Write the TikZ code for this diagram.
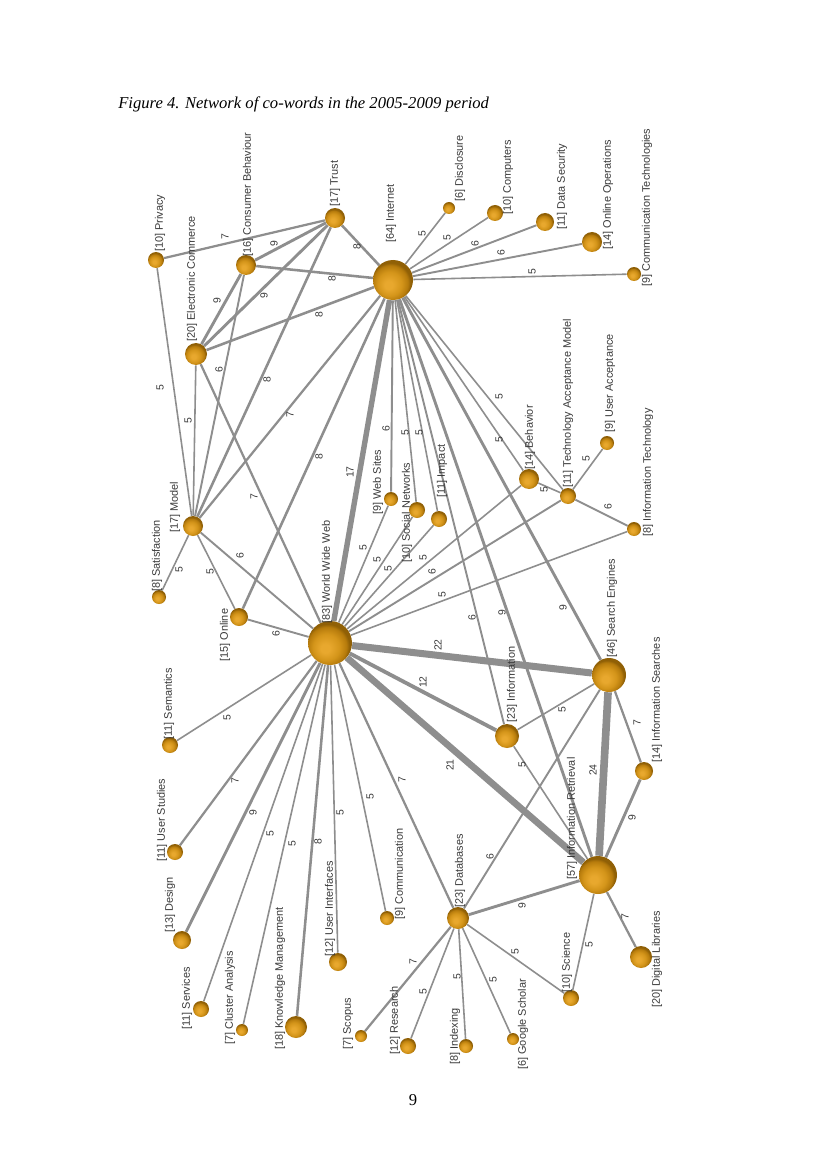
\documentclass[tikz,border=0pt]{standalone}
\usepackage{fontspec}
\setmainfont{Liberation Serif}
\setsansfont{Liberation Sans}
\definecolor{edgegray}{HTML}{8E8E8E}
\definecolor{lblgray}{HTML}{3A3A3A}
\definecolor{gA}{HTML}{E8A82E}
\definecolor{gB}{HTML}{D4951A}
\definecolor{gC}{HTML}{B67B0C}
\definecolor{gD}{HTML}{906006}
\pgfdeclareradialshading{goldball}{\pgfpoint{-6bp}{-7bp}}{color(0bp)=(gA); color(5bp)=(gA); color(15bp)=(gB); color(22bp)=(gC); color(25bp)=(gD); color(50bp)=(gD)}
\pgfdeclarelayer{paper}
\pgfdeclarelayer{bg}
\pgfsetlayers{paper,bg,main}
\begin{document}
\begin{tikzpicture}[x=0.01in,y=-0.01in,
  sph/.style={circle, inner sep=0pt, minimum size=#1*0.01in, shade, shading=goldball},
  lnk/.style={draw=edgegray, line width=#1*0.23pt},
  lbl/.style={rotate=90, anchor=west, font=\sffamily\fontsize{7.9}{9}\selectfont, text=lblgray, inner sep=0pt},
  elbl/.style={rotate=90, font=\sffamily\fontsize{7.5}{8}\selectfont, text=lblgray, inner sep=0pt}]
\useasboundingbox (0,0) rectangle (827,1169);
\begin{pgfonlayer}{paper}
\fill[white] (0,0) rectangle (827,1169);
\end{pgfonlayer}

\node[anchor=base west, font=\itshape\fontsize{12}{14}\selectfont, inner sep=0pt] (title) at (118,109) {Figure 4. Network of co-words in the 2005-2009 period};
\node[font=\fontsize{12}{14}\selectfont, inner sep=0pt] (pagenum) at (413,1100) {9};

% nodes
\node[sph=16] (privacy) at (156,260) {};
\node[sph=20] (cb) at (246,265) {};
\node[sph=20] (trust) at (335,218) {};
\node[sph=40] (inet) at (393,280) {};
\node[sph=22] (ec) at (196,354) {};
\node[sph=12] (discl) at (449,208) {};
\node[sph=16] (comp) at (495,213) {};
\node[sph=18] (datasec) at (545,222) {};
\node[sph=20] (onlops) at (592,242) {};
\node[sph=14] (commtech) at (634,274) {};
\node[sph=20] (model) at (193,526) {};
\node[sph=14] (satis) at (159,597) {};
\node[sph=18] (online) at (239,617) {};
\node[sph=44] (www) at (330,643) {};
\node[sph=14] (websites) at (391,499) {};
\node[sph=16] (socnet) at (417,510) {};
\node[sph=16] (impact) at (439,519) {};
\node[sph=20] (behav) at (529,479) {};
\node[sph=16] (tam) at (568,496) {};
\node[sph=14] (useracc) at (607,443) {};
\node[sph=14] (infotech) at (634,529) {};
\node[sph=34] (se) at (609,675) {};
\node[sph=24] (info) at (507,736) {};
\node[sph=18] (infosearch) at (644,771) {};
\node[sph=38] (ir) at (598,875) {};
\node[sph=16] (semantics) at (170,745) {};
\node[sph=16] (userstud) at (175,852) {};
\node[sph=18] (design) at (182,940) {};
\node[sph=16] (services) at (201,1009) {};
\node[sph=12] (cluster) at (242,1030) {};
\node[sph=22] (km) at (296,1027) {};
\node[sph=18] (ui) at (338,962) {};
\node[sph=14] (comm) at (387,918) {};
\node[sph=22] (db) at (458,918) {};
\node[sph=12] (scopus) at (361,1036) {};
\node[sph=16] (research) at (408,1046) {};
\node[sph=14] (indexing) at (466,1046) {};
\node[sph=12] (gscholar) at (513,1039) {};
\node[sph=16] (science) at (571,998) {};
\node[sph=22] (diglib) at (641,957) {};

% node labels
\node[lbl] (privacy-l) at (160,252) {[10] Privacy};
\node[lbl] (cb-l) at (248,257) {[16] Consumer Behaviour};
\node[lbl] (trust-l) at (335,207) {[17] Trust};
\node[lbl] (inet-l) at (391,243) {[64] Internet};
\node[lbl] (ec-l) at (192,342) {[20] Electronic Commerce};
\node[lbl] (discl-l) at (460,202) {[6] Disclosure};
\node[lbl] (comp-l) at (508,215) {[10] Computers};
\node[lbl] (datasec-l) at (562,230) {[11] Data Security};
\node[lbl] (onlops-l) at (608,250) {[14] Online Operations};
\node[lbl] (commtech-l) at (647,287) {[9] Communication Technologies};
\node[lbl] (model-l) at (175,533) {[17] Model};
\node[lbl] (satis-l) at (157,592) {[8] Satisfaction};
\node[lbl] (online-l) at (225,662) {[15] Online};
\node[lbl] (www-l) at (327,624) {[83] World Wide Web};
\node[lbl] (websites-l) at (378,515) {[9] Web Sites};
\node[lbl] (socnet-l) at (407,563) {[10] Social Networks};
\node[lbl] (impact-l) at (442,498) {[11] Impact};
\node[lbl] (behav-l) at (530,470) {[14] Behavior};
\node[lbl] (tam-l) at (568,488) {[11] Technology Acceptance Model};
\node[lbl] (useracc-l) at (610,433) {[9] User Acceptance};
\node[lbl] (infotech-l) at (648,537) {[8] Information Technology};
\node[lbl] (se-l) at (612,658) {[46] Search Engines};
\node[lbl] (info-l) at (512,723) {[23] Information};
\node[lbl] (infosearch-l) at (657,763) {[14] Information Searches};
\node[lbl] (ir-l) at (572,880) {[57] Information Retrieval};
\node[lbl] (semantics-l) at (169,740) {[11] Semantics};
\node[lbl] (userstud-l) at (162,862) {[11] User Studies};
\node[lbl] (design-l) at (170,933) {[13] Design};
\node[lbl] (services-l) at (187,1030) {[11] Services};
\node[lbl] (cluster-l) at (230,1045) {[7] Cluster Analysis};
\node[lbl] (km-l) at (280,1050) {[18] Knowledge Management};
\node[lbl] (ui-l) at (330,957) {[12] User Interfaces};
\node[lbl] (comm-l) at (400,920) {[9] Communication};
\node[lbl] (db-l) at (460,908) {[23] Databases};
\node[lbl] (scopus-l) at (348,1050) {[7] Scopus};
\node[lbl] (research-l) at (395,1055) {[12] Research};
\node[lbl] (indexing-l) at (455,1065) {[8] Indexing};
\node[lbl] (gscholar-l) at (523,1070) {[6] Google Scholar};
\node[lbl] (science-l) at (567,993) {[10] Science};
\node[lbl] (diglib-l) at (657,1008) {[20] Digital Libraries};

% edges
\begin{pgfonlayer}{bg}
\draw[lnk=8] (inet) -- (trust);
\draw[lnk=8] (inet) -- (cb);
\draw[lnk=8] (inet) -- (ec);
\draw[lnk=5] (inet) -- (discl);
\draw[lnk=5] (inet) -- (comp);
\draw[lnk=6] (inet) -- (datasec);
\draw[lnk=6] (inet) -- (onlops);
\draw[lnk=5] (inet) -- (commtech);
\draw[lnk=7] (inet) -- (model);
\draw[lnk=8] (inet) -- (online);
\draw[lnk=17] (inet) -- (www);
\draw[lnk=6] (inet) -- (websites);
\draw[lnk=5] (inet) -- (socnet);
\draw[lnk=5] (inet) -- (impact);
\draw[lnk=6] (inet) -- (info);
\draw[lnk=9] (inet) -- (ir);
\draw[lnk=9] (inet) -- (se);
\draw[lnk=5] (inet) -- (behav);
\draw[lnk=5] (inet) -- (tam);
\draw[lnk=7] (trust) -- (privacy);
\draw[lnk=9] (trust) -- (cb);
\draw[lnk=9] (trust) -- (ec);
\draw[lnk=8] (trust) -- (model);
\draw[lnk=9] (cb) -- (ec);
\draw[lnk=6] (cb) -- (model);
\draw[lnk=5] (ec) -- (model);
\draw[lnk=7] (ec) -- (www);
\draw[lnk=5] (privacy) -- (model);
\draw[lnk=5] (model) -- (satis);
\draw[lnk=5] (model) -- (online);
\draw[lnk=6] (model) -- (www);
\draw[lnk=6] (online) -- (www);
\draw[lnk=5] (www) -- (websites);
\draw[lnk=5] (www) -- (socnet);
\draw[lnk=5] (www) -- (impact);
\draw[lnk=5] (www) -- (behav);
\draw[lnk=6] (www) -- (tam);
\draw[lnk=5] (www) -- (infotech);
\draw[lnk=22] (www) -- (se);
\draw[lnk=12] (www) -- (info);
\draw[lnk=21] (www) -- (ir);
\draw[lnk=7] (www) -- (db);
\draw[lnk=5] (www) -- (comm);
\draw[lnk=5] (www) -- (ui);
\draw[lnk=8] (www) -- (km);
\draw[lnk=5] (www) -- (cluster);
\draw[lnk=5] (www) -- (services);
\draw[lnk=9] (www) -- (design);
\draw[lnk=7] (www) -- (userstud);
\draw[lnk=5] (www) -- (semantics);
\draw[lnk=5] (se) -- (info);
\draw[lnk=7] (se) -- (infosearch);
\draw[lnk=24] (se) -- (ir);
\draw[lnk=6] (se) -- (db);
\draw[lnk=5] (info) -- (ir);
\draw[lnk=9] (ir) -- (infosearch);
\draw[lnk=9] (ir) -- (db);
\draw[lnk=5] (ir) -- (science);
\draw[lnk=7] (ir) -- (diglib);
\draw[lnk=7] (db) -- (scopus);
\draw[lnk=5] (db) -- (research);
\draw[lnk=5] (db) -- (indexing);
\draw[lnk=5] (db) -- (gscholar);
\draw[lnk=5] (db) -- (science);
\draw[lnk=5] (tam) -- (behav);
\draw[lnk=5] (tam) -- (useracc);
\draw[lnk=6] (tam) -- (infotech);
\end{pgfonlayer}

% edge labels
\node[elbl] (w1) at (225,237) {7};
\node[elbl] (w2) at (274,244) {9};
\node[elbl] (w3) at (357,247) {8};
\node[elbl] (w4) at (332,279) {8};
\node[elbl] (w5) at (217,301) {9};
\node[elbl] (w6) at (264,296) {9};
\node[elbl] (w7) at (319,315) {8};
\node[elbl] (w8) at (219,370) {6};
\node[elbl] (w9) at (267,380) {8};
\node[elbl] (w10) at (160,388) {5};
\node[elbl] (w11) at (290,415) {7};
\node[elbl] (w12) at (422,234) {5};
\node[elbl] (w13) at (447,238) {5};
\node[elbl] (w14) at (475,244) {6};
\node[elbl] (w15) at (501,253) {6};
\node[elbl] (w16) at (532,272) {5};
\node[elbl] (w17) at (499,397) {5};
\node[elbl] (w18) at (188,421) {5};
\node[elbl] (w19) at (254,497) {7};
\node[elbl] (w20) at (319,457) {8};
\node[elbl] (w21) at (350,472) {17};
\node[elbl] (w22) at (386,429) {6};
\node[elbl] (w23) at (405,433) {5};
\node[elbl] (w24) at (419,433) {5};
\node[elbl] (w25) at (179,570) {5};
\node[elbl] (w26) at (210,572) {5};
\node[elbl] (w27) at (240,556) {6};
\node[elbl] (w28) at (276,634) {6};
\node[elbl] (w29) at (363,548) {5};
\node[elbl] (w30) at (377,560) {5};
\node[elbl] (w31) at (388,569) {5};
\node[elbl] (w32) at (423,682) {12};
\node[elbl] (w33) at (499,440) {5};
\node[elbl] (w34) at (423,558) {5};
\node[elbl] (w35) at (432,572) {6};
\node[elbl] (w36) at (442,595) {5};
\node[elbl] (w37) at (544,490) {5};
\node[elbl] (w38) at (586,459) {5};
\node[elbl] (w39) at (608,507) {6};
\node[elbl] (w40) at (438,645) {22};
\node[elbl] (w41) at (472,618) {6};
\node[elbl] (w42) at (502,613) {9};
\node[elbl] (w43) at (563,608) {9};
\node[elbl] (w44) at (562,710) {5};
\node[elbl] (w45) at (637,723) {7};
\node[elbl] (w46) at (450,765) {21};
\node[elbl] (w47) at (522,765) {5};
\node[elbl] (w48) at (593,770) {24};
\node[elbl] (w49) at (402,780) {7};
\node[elbl] (w50) at (632,818) {9};
\node[elbl] (w51) at (490,857) {6};
\node[elbl] (w52) at (522,906) {9};
\node[elbl] (w53) at (625,917) {7};
\node[elbl] (w54) at (589,945) {5};
\node[elbl] (w55) at (413,962) {7};
\node[elbl] (w56) at (423,992) {5};
\node[elbl] (w57) at (457,977) {5};
\node[elbl] (w58) at (493,980) {5};
\node[elbl] (w59) at (515,952) {5};
\node[elbl] (w60) at (227,718) {5};
\node[elbl] (w61) at (235,781) {7};
\node[elbl] (w62) at (253,813) {9};
\node[elbl] (w63) at (270,834) {5};
\node[elbl] (w64) at (292,844) {5};
\node[elbl] (w65) at (318,842) {8};
\node[elbl] (w66) at (340,813) {5};
\node[elbl] (w67) at (370,797) {5};
\end{tikzpicture}
\end{document}
